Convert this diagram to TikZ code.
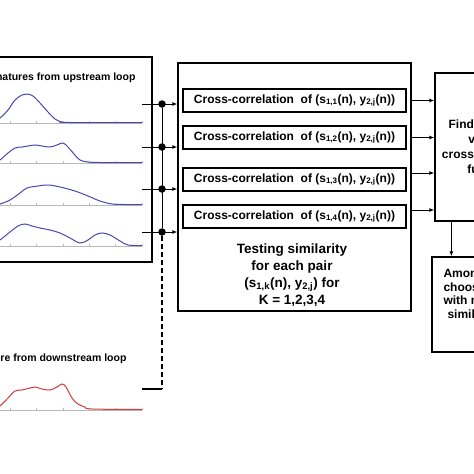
\documentclass[tikz,border=0pt]{standalone}
\usepackage{fontspec}
\setmainfont{Liberation Sans}
\usepackage{tikz}
\usetikzlibrary{positioning,calc,arrows.meta}
\definecolor{sigblue}{RGB}{72,72,178}
\definecolor{sigred}{RGB}{205,60,60}
\definecolor{axisgray}{RGB}{185,185,185}

\begin{document}
\begin{tikzpicture}[x=1pt,y=-1pt,>={Latex[length=5pt,width=4pt]},
                font=\fontsize{12}{15}\selectfont\bfseries,
                blk/.style={draw,line width=1.3pt,inner sep=0pt},
                ccbox/.style={blk,minimum width=223pt,minimum height=23pt},
                lnk/.style={->,line width=1pt},
                dot/.style={circle,fill,inner sep=0pt,minimum size=7.5pt},
                curve/.style={line width=1pt},
                sigtitle/.style={anchor=east,font=\fontsize{10.5}{13}\selectfont\bfseries}]

\useasboundingbox (0,0) rectangle (474,474);
\clip (0,0) rectangle (474,474);

% upstream signatures
\node[blk,minimum width=180pt,minimum height=205pt] (up) at (62,159.5) {};
\node[sigtitle] (uptitle) at (139,78) {Signatures from upstream loop};

\foreach \b in {123,163,205,246,410} {
  \draw[axisgray,line width=0.6pt] (-5,\b) -- (142,\b);
  \foreach \t in {10,36.4,...,142}
    \draw[axisgray,line width=0.5pt] (\t,\b) -- (\t,\b-2);
}

\draw[sigblue,curve] plot[smooth,tension=0.6] coordinates {(-5,120) (0,118) (8,110) (15,100) (22,95) (27,94) (33,96) (40,103) (48,112) (55,119) (62,122) (70,122.5) (142,122.5)};
\draw[sigblue,curve] plot[smooth,tension=0.6] coordinates {(-5,162) (0,160) (8,153) (15,148) (22,147) (28,146) (35,145) (42,146) (50,147) (57,145) (63,143) (68,147) (74,154) (80,160) (88,162) (100,162.5) (142,162.5)};
\draw[sigblue,curve] plot[smooth,tension=0.6] coordinates {(-5,205) (0,204) (10,200) (20,193) (27,188) (38,186) (48,185) (60,187) (75,191) (88,196) (100,201) (112,204) (125,204.5) (142,204.5)};
\draw[sigblue,curve] plot[smooth,tension=0.6] coordinates {(-5,243) (0,240) (10,232) (18,226) (25,224) (32,226) (40,228) (50,230) (60,233) (70,238) (80,243) (88,240) (95,235) (102,233) (110,235) (120,241) (128,245) (142,245.5)};

% downstream signature
\node[sigtitle] (dntitle) at (130,359) {Signature from downstream loop};
\draw[sigred,curve] plot[smooth,tension=0.6] coordinates {(-5,409) (0,406) (8,398) (15,391) (22,390) (30,388) (35,387) (42,389) (50,390) (57,387) (62,384) (66,387) (72,398) (78,404) (85,407) (92,409) (142,409.5)};

% testing block
\node[blk,minimum width=233pt,minimum height=248pt] (test) at (294.5,187) {};
\node[ccbox] (cc1) at (294.5,100.5) {Cross-correlation~ of (s\textsubscript{1,1}(n), y\textsubscript{2,j}(n))};
\node[ccbox] (cc2) at (294.5,137.5) {Cross-correlation~ of (s\textsubscript{1,2}(n), y\textsubscript{2,j}(n))};
\node[ccbox] (cc3) at (294.5,179.5) {Cross-correlation~ of (s\textsubscript{1,3}(n), y\textsubscript{2,j}(n))};
\node[ccbox] (cc4) at (294.5,216.5) {Cross-correlation~ of (s\textsubscript{1,4}(n), y\textsubscript{2,j}(n))};
\node[align=center,font=\fontsize{13.5}{17}\selectfont\bfseries] (testtxt) at (292,275)
  {Testing similarity\\for each pair\\(s\textsubscript{1,k}(n), y\textsubscript{2,j}) for\\K = 1,2,3,4};

% decision blocks
\node[blk,minimum width=112pt,minimum height=148pt,align=center] (find) at (491,147)
  {Find maximum\\value of\\cross-correlation\\function};
\node[blk,minimum width=92pt,minimum height=95pt] (among) at (478,304.5) {};
\node[align=left,anchor=west,font=\fontsize{12}{13.5}\selectfont\bfseries] (amongtxt) at (440,295)
  {Among them,\\choose one\\with maximum\\\hspace{4pt}similarity};

% bus
\foreach \i/\y in {1/104,2/147,3/189,4/232} {
  \coordinate (src\i) at (142,\y);
  \node[dot] (bus\i) at (162,\y) {};
  \draw[lnk] (src\i) -- (src\i -| test.west);
}
\draw[line width=1pt] (bus1) -- (bus4);
\coordinate (corner) at (162,389);
\coordinate (dn) at (142,389);
\draw[line width=1.2pt,dash pattern=on 5pt off 3pt] (bus4) -- (corner);
\draw[line width=1.2pt] (corner) -- (dn);

  \path (cc1.east -| test.east) edge[lnk] (cc1.east -| find.west)
        (cc2.east -| test.east) edge[lnk] (cc2.east -| find.west)
        ([yshift=6.5pt]cc3.east -| test.east) edge[lnk] ([yshift=6.5pt]cc3.east -| find.west)
        ([yshift=6.5pt]cc4.east -| test.east) edge[lnk] ([yshift=6.5pt]cc4.east -| find.west)
        ([xshift=17pt]find.south west) edge[lnk] ([xshift=20pt]among.north west)
        ;
\end{tikzpicture}
\end{document}
